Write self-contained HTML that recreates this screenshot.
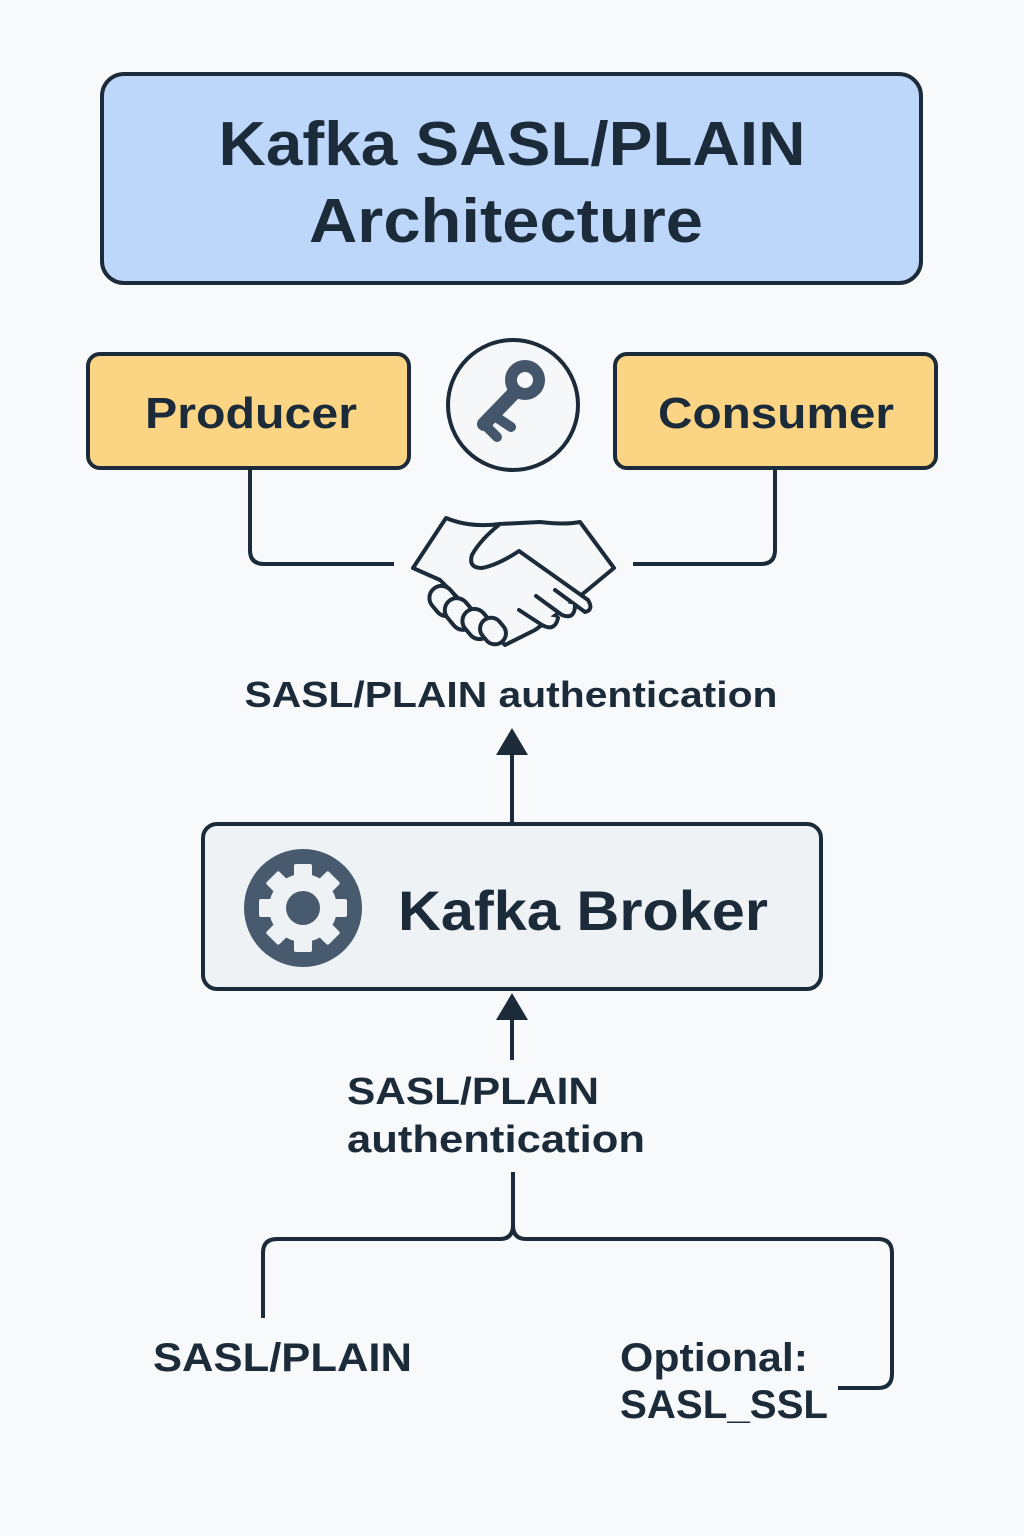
<!DOCTYPE html>
<html><head><meta charset="utf-8"><style>
html,body{margin:0;padding:0;background:#f8f9fb;}
svg{display:block;}
text{font-family:"Liberation Sans",sans-serif;fill:#1c2b3a;}
</style></head><body>
<svg width="1024" height="1536" viewBox="0 0 1024 1536" xmlns="http://www.w3.org/2000/svg">
<rect width="1024" height="1536" fill="#f8f9fb"/>
<!-- title -->
<rect x="102" y="74" width="819" height="209" rx="22" fill="#bdd7fb" stroke="#1c2b3a" stroke-width="4"/>
<text x="512" y="165" font-size="62" font-weight="bold" text-anchor="middle" textLength="587" lengthAdjust="spacingAndGlyphs">Kafka SASL/PLAIN</text>
<text x="506" y="242" font-size="62" font-weight="bold" text-anchor="middle" textLength="394" lengthAdjust="spacingAndGlyphs">Architecture</text>
<!-- producer / consumer -->
<rect x="88" y="354" width="321" height="114" rx="12" fill="#fcd584" stroke="#1c2b3a" stroke-width="4"/>
<text x="251" y="428" font-size="44" font-weight="bold" text-anchor="middle" textLength="212" lengthAdjust="spacingAndGlyphs">Producer</text>
<rect x="615" y="354" width="321" height="114" rx="12" fill="#fcd584" stroke="#1c2b3a" stroke-width="4"/>
<text x="776" y="428" font-size="44" font-weight="bold" text-anchor="middle" textLength="236" lengthAdjust="spacingAndGlyphs">Consumer</text>
<!-- key -->
<circle cx="513" cy="405" r="65" fill="#f6f7f8" stroke="#1c2b3a" stroke-width="4"/>
<g fill="none" stroke="#44566b" stroke-linecap="round">
<circle cx="525" cy="380" r="14" stroke-width="12"/>
<line x1="515" y1="392" x2="484" y2="424" stroke-width="14"/>
<line x1="493" y1="415" x2="511" y2="427" stroke-width="10"/>
<line x1="484" y1="424" x2="497" y2="437" stroke-width="10"/>
</g>
<!-- connectors to handshake -->
<path d="M250 470 V550 Q250 564 264 564 H394" fill="none" stroke="#1c2b3a" stroke-width="4"/>
<path d="M775 470 V550 Q775 564 761 564 H633" fill="none" stroke="#1c2b3a" stroke-width="4"/>
<!-- handshake -->
<g fill="#f6f7f8" stroke="#1c2b3a" stroke-width="4" stroke-linejoin="round" stroke-linecap="round">
<path d="M413 568 L446 518 Q470 528 500 524 L540 522 Q565 525 580 522 L614 568 L585 592 L560 612 L535 630 L505 645 L470 610 L440 580 Z"/>
<path d="M500 524 Q480 540 472 555 Q468 568 482 568 Q498 565 519 551 L588 600 Q594 610 585 612 L555 590"/>
<path d="M575 605 Q575 620 562 615 L536 596"/>
<path d="M558 618 Q555 632 542 625 L519 610"/>
<rect x="432" y="585" width="24" height="32" rx="12" transform="rotate(-40 444 601)"/>
<rect x="448" y="597" width="24" height="34" rx="12" transform="rotate(-40 460 614)"/>
<rect x="465" y="608" width="24" height="32" rx="12" transform="rotate(-40 477 624)"/>
<rect x="482" y="617" width="22" height="28" rx="11" transform="rotate(-40 493 631)"/>
</g>
<text x="511" y="707" font-size="36" font-weight="bold" text-anchor="middle" textLength="533" lengthAdjust="spacingAndGlyphs">SASL/PLAIN authentication</text>
<!-- arrow up -->
<line x1="512" y1="822" x2="512" y2="750" stroke="#1c2b3a" stroke-width="4"/>
<path d="M512 728 L528 755 L496 755 Z" fill="#1c2b3a"/>
<!-- broker -->
<rect x="203" y="824" width="618" height="165" rx="14" fill="#eff2f5" stroke="#1c2b3a" stroke-width="4"/>
<circle cx="303" cy="908" r="59" fill="#485a6e"/>
<g fill="#eff2f5" transform="translate(303 908)">
<circle r="34"/>
<g id="t"><rect x="-9" y="-44" width="18" height="14" rx="2"/></g>
<use href="#t" transform="rotate(45)"/><use href="#t" transform="rotate(90)"/><use href="#t" transform="rotate(135)"/>
<use href="#t" transform="rotate(180)"/><use href="#t" transform="rotate(225)"/><use href="#t" transform="rotate(270)"/><use href="#t" transform="rotate(315)"/>
<circle r="17" fill="#485a6e"/>
</g>
<text x="398" y="930" font-size="56" font-weight="bold" textLength="370" lengthAdjust="spacingAndGlyphs">Kafka Broker</text>
<!-- arrow up 2 -->
<line x1="512" y1="1060" x2="512" y2="1015" stroke="#1c2b3a" stroke-width="4"/>
<path d="M512 993 L528 1020 L496 1020 Z" fill="#1c2b3a"/>
<text x="347" y="1104" font-size="38" font-weight="bold" textLength="252" lengthAdjust="spacingAndGlyphs">SASL/PLAIN</text>
<text x="347" y="1152" font-size="38" font-weight="bold" textLength="298" lengthAdjust="spacingAndGlyphs">authentication</text>
<!-- bracket -->
<path d="M513 1172 V1225 Q513 1239 500 1239 H277 Q263 1239 263 1253 V1318" fill="none" stroke="#1c2b3a" stroke-width="4"/>
<path d="M513 1225 Q513 1239 526 1239 H878 Q892 1239 892 1253 V1374 Q892 1388 878 1388 H838" fill="none" stroke="#1c2b3a" stroke-width="4"/>
<text x="153" y="1371" font-size="40" font-weight="bold" textLength="259" lengthAdjust="spacingAndGlyphs">SASL/PLAIN</text>
<text x="620" y="1371" font-size="40" font-weight="bold" textLength="188" lengthAdjust="spacingAndGlyphs">Optional:</text>
<text x="620" y="1418" font-size="40" font-weight="bold" textLength="208" lengthAdjust="spacingAndGlyphs">SASL_SSL</text>
</svg>
</body></html>
